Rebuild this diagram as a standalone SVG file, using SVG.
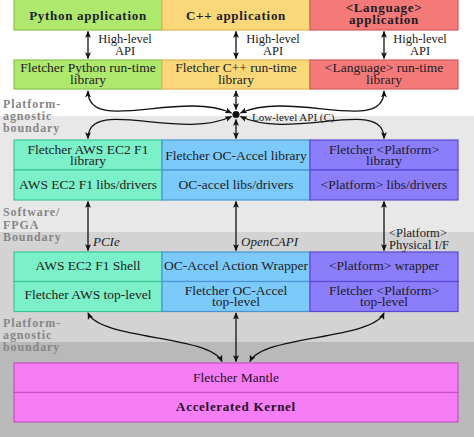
<svg xmlns="http://www.w3.org/2000/svg" width="474" height="437" viewBox="0 0 474 437">
<defs>
<style>
text{text-anchor:middle;font-size:13.5px;fill:#1c1c24}
.b{font-weight:bold;font-size:13px;letter-spacing:0.7px}
.g{font-weight:bold;font-size:12px;letter-spacing:0.9px;fill:#868686;text-anchor:start}
.s{font-size:12.5px}
.ll{font-size:11px;text-anchor:start}
.it{font-style:italic;font-size:13px;text-anchor:start}
.st{font-size:12.5px;text-anchor:start}
rect{stroke-width:1.2}
.py{fill:#aee86c;stroke:#88c44c}
.cp{fill:#fad87a;stroke:#e0b850}
.lg{fill:#f47a7a;stroke:#d25a5a}
.aw{fill:#7cf0c8;stroke:#3cc698}
.oc{fill:#7ccafa;stroke:#4a94d4}
.pf{fill:#8c7efa;stroke:#5a48d2}
.mt{fill:#f57ef5;stroke:#c450c4}
.mt-t{fill:#2a0e2a}
#connectors path{stroke:#111;stroke-width:1.3;fill:none;marker-start:url(#ah);marker-end:url(#ah)}
</style>
<marker id="ah" viewBox="0 0 10 10" refX="9" refY="5" markerWidth="7" markerHeight="7" orient="auto-start-reverse" markerUnits="userSpaceOnUse">
<path d="M0,0.8 L10,5 L0,9.2 L2.2,5 z" fill="#111"/>
</marker>
</defs>

<g id="background">
<rect x="0" y="0" width="474" height="116" fill="#ffffff" stroke="none"/>
<rect x="0" y="116" width="474" height="116" fill="#e8e8e8" stroke="none"/>
<rect x="0" y="232" width="474" height="110" fill="#d3d3d3" stroke="none"/>
<rect x="0" y="342" width="474" height="95" fill="#b9b9b9" stroke="none"/>
</g>

<g id="boundary-labels">
<text font-family="Liberation Serif" class="g" x="3" y="108">Platform-</text>
<text font-family="Liberation Serif" class="g" x="3" y="120">agnostic</text>
<text font-family="Liberation Serif" class="g" x="3" y="132">boundary</text>
<text font-family="Liberation Serif" class="g" x="3" y="216">Software/</text>
<text font-family="Liberation Serif" class="g" x="3" y="229">FPGA</text>
<text font-family="Liberation Serif" class="g" x="3" y="241">Boundary</text>
<text font-family="Liberation Serif" class="g" x="3" y="327">Platform-</text>
<text font-family="Liberation Serif" class="g" x="3" y="339">agnostic</text>
<text font-family="Liberation Serif" class="g" x="3" y="351">boundary</text>
</g>

<g id="python-app"><rect class="py" x="14" y="-1" width="148" height="31"/><text font-family="Liberation Serif" class="b" x="88" y="19.5">Python application</text></g>
<g id="cpp-app"><rect class="cp" x="162" y="-1" width="148" height="31"/><text font-family="Liberation Serif" class="b" x="236" y="19.5">C++ application</text></g>
<g id="lang-app"><rect class="lg" x="310" y="-1" width="148" height="31"/><text font-family="Liberation Serif" class="b" x="384" y="12">&lt;Language&gt;</text><text font-family="Liberation Serif" class="b" x="384" y="24">application</text></g>

<g id="python-lib"><rect class="py" x="14" y="60" width="148" height="29"/><text font-family="Liberation Serif" x="88" y="72">Fletcher Python run-time</text><text font-family="Liberation Serif" x="88" y="84">library</text></g>
<g id="cpp-lib"><rect class="cp" x="162" y="60" width="148" height="29"/><text font-family="Liberation Serif" x="236" y="72">Fletcher C++ run-time</text><text font-family="Liberation Serif" x="236" y="84">library</text></g>
<g id="lang-lib"><rect class="lg" x="310" y="60" width="148" height="29"/><text font-family="Liberation Serif" x="384" y="72">&lt;Language&gt; run-time</text><text font-family="Liberation Serif" x="384" y="84">library</text></g>

<g id="aws-lib"><rect class="aw" x="14" y="140" width="148" height="30"/><text font-family="Liberation Serif" x="88" y="153.5">Fletcher AWS EC2 F1</text><text font-family="Liberation Serif" x="88" y="165">library</text></g>
<g id="oc-lib"><rect class="oc" x="162" y="140" width="148" height="30"/><text font-family="Liberation Serif" x="236" y="159.5">Fletcher OC-Accel library</text></g>
<g id="pf-lib"><rect class="pf" x="310" y="140" width="148" height="30"/><text font-family="Liberation Serif" x="384" y="153.5">Fletcher &lt;Platform&gt;</text><text font-family="Liberation Serif" x="384" y="165">library</text></g>

<g id="aws-drv"><rect class="aw" x="14" y="170" width="148" height="30"/><text font-family="Liberation Serif" x="88" y="189">AWS EC2 F1 libs/drivers</text></g>
<g id="oc-drv"><rect class="oc" x="162" y="170" width="148" height="30"/><text font-family="Liberation Serif" x="236" y="189">OC-accel libs/drivers</text></g>
<g id="pf-drv"><rect class="pf" x="310" y="170" width="148" height="30"/><text font-family="Liberation Serif" x="384" y="189">&lt;Platform&gt; libs/drivers</text></g>

<g id="aws-shell"><rect class="aw" x="14" y="252" width="148" height="29.5"/><text font-family="Liberation Serif" x="88" y="270">AWS EC2 F1 Shell</text></g>
<g id="oc-wrap"><rect class="oc" x="162" y="252" width="148" height="29.5"/><text font-family="Liberation Serif" x="236" y="270">OC-Accel Action Wrapper</text></g>
<g id="pf-wrap"><rect class="pf" x="310" y="252" width="148" height="29.5"/><text font-family="Liberation Serif" x="384" y="270">&lt;Platform&gt; wrapper</text></g>

<g id="aws-top"><rect class="aw" x="14" y="281.5" width="148" height="30"/><text font-family="Liberation Serif" x="88" y="299">Fletcher AWS top-level</text></g>
<g id="oc-top"><rect class="oc" x="162" y="281.5" width="148" height="30"/><text font-family="Liberation Serif" x="236" y="294.5">Fletcher OC-Accel</text><text font-family="Liberation Serif" x="236" y="306">top-level</text></g>
<g id="pf-top"><rect class="pf" x="310" y="281.5" width="148" height="30"/><text font-family="Liberation Serif" x="384" y="294.5">Fletcher &lt;Platform&gt;</text><text font-family="Liberation Serif" x="384" y="306">top-level</text></g>

<g id="mantle"><rect class="mt" x="14" y="363" width="444" height="29.5"/><text font-family="Liberation Serif" class="mt-t" x="236" y="381.5">Fletcher Mantle</text></g>
<g id="kernel"><rect class="mt" x="14" y="392.5" width="444" height="29.5"/><text font-family="Liberation Serif" class="b mt-t" x="236" y="410.5">Accelerated Kernel</text></g>

<g id="connectors">
<path d="M88,31.5 V58.5"/>
<path d="M236,31.5 V58.5"/>
<path d="M384,31.5 V58.5"/>
<path d="M236,109.5 V91"/>
<path d="M236,119.5 V138.5"/>
<path d="M88,91 C88,135 180,90 231.5,113"/>
<path d="M88,138.5 C88,96 180,141 231.5,116.5"/>
<path d="M384,91 C384,135 292,90 240.5,113"/>
<path d="M384,138.5 C384,96 292,141 240.5,116.5"/>
<path d="M88,201.5 V250.5"/>
<path d="M236,201.5 V250.5"/>
<path d="M384,201.5 V250.5"/>
<path d="M236,313 V361.5"/>
<path d="M88,313 C100,340 210,335 222,361.5"/>
<path d="M384,313 C372,340 262,335 250,361.5"/>
<circle cx="236" cy="114.5" r="3.6" fill="#111"/>
</g>

<g id="connector-labels">
<text font-family="Liberation Serif" class="s" x="125" y="43">High-level</text>
<text font-family="Liberation Serif" class="s" x="125" y="55">API</text>
<text font-family="Liberation Serif" class="s" x="273" y="43">High-level</text>
<text font-family="Liberation Serif" class="s" x="273" y="55">API</text>
<text font-family="Liberation Serif" class="s" x="420" y="43">High-level</text>
<text font-family="Liberation Serif" class="s" x="420" y="55">API</text>
<text font-family="Liberation Serif" class="ll" x="252" y="121">Low-level API (C)</text>
<text font-family="Liberation Serif" class="it" x="93" y="245.5">PCIe</text>
<text font-family="Liberation Serif" class="it" x="241" y="245.5">OpenCAPI</text>
<text font-family="Liberation Serif" class="st" x="389" y="237">&lt;Platform&gt;</text>
<text font-family="Liberation Serif" class="st" x="389" y="248.5">Physical I/F</text>
</g>
</svg>
